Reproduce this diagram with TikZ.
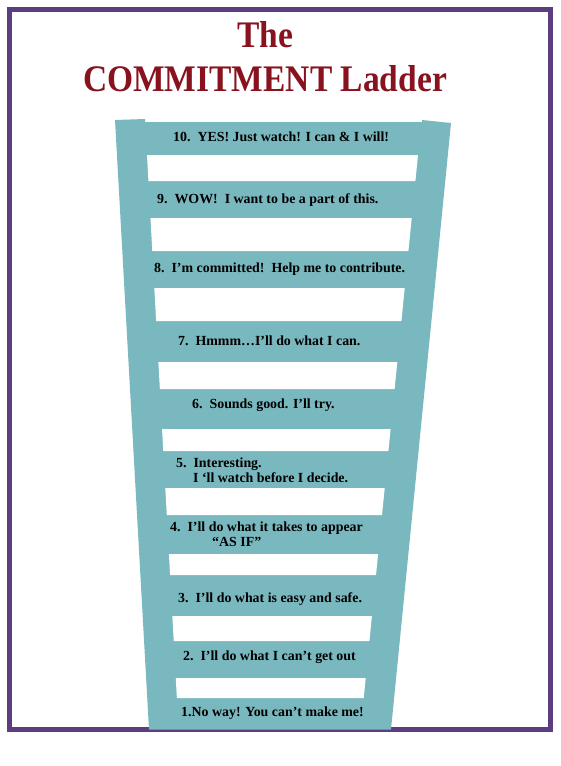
\documentclass[tikz,border=0pt]{standalone}
\usepackage{fontspec}
\setmainfont{Liberation Serif}
\definecolor{teal1}{HTML}{7AB8BF}
\definecolor{frame1}{HTML}{5C3D80}
\definecolor{title1}{HTML}{88131F}
\begin{document}
\begin{tikzpicture}[x=1pt,y=-1pt,
  rungtext/.style={anchor=base west,inner sep=0pt,font=\bfseries\fontsize{13.9}{15}\selectfont,text=black},
  titletext/.style={anchor=base,inner sep=0pt,font=\bfseries\fontsize{33.5}{36}\selectfont,text=title1}]
\useasboundingbox (0,0) rectangle (560,766);
\fill[white] (0,0) rectangle (560,766);
% frame
\draw[frame1,line width=5pt] (9.5,9.5) rectangle (550,729.5);
% ladder body
\fill[teal1] (115,120) -- (145,119) -- (145,122) -- (422,122) -- (422,120) -- (451,123)
  -- (391,729.5) -- (149,729.5) -- cycle;
% gaps
\foreach \t/\b in {155/181,218/251,288/321,362/389,429/451,488/515,554/575,616/641,678/698}{
  \fill[white] ({147+0.055*(\t-155)},\t) -- ({418-0.1*(\t-155)},\t)
    -- ({418-0.1*(\b-155)},\b) -- ({147+0.055*(\b-155)},\b) -- cycle;
}
% title
\node[titletext] (t1) at (265.5,47) {\scalebox{1}[1.12]{The}};
\node[titletext] (t2) at (265,91) {\scalebox{1}[1.12]{COMMITMENT Ladder}};
% rungs
\node[rungtext] (r10) at (173,141) {10.\ \ YES! Just watch! I can \& I will!};
\node[rungtext] (r9) at (157,203) {9.\ \ WOW!\ \ I want to be a part of this.};
\node[rungtext] (r8) at (154,272) {8.\ \ I’m committed!\ \ Help me to contribute.};
\node[rungtext] (r7) at (178,345) {7.\ \ Hmmm…I’ll do what I can.};
\node[rungtext] (r6) at (192,408) {6.\ \ Sounds good. I’ll try.};
\node[rungtext] (r5a) at (176,467) {5.\ \ Interesting.};
\node[rungtext] (r5b) at (193,482) {I ‘ll watch before I decide.};
\node[rungtext] (r4a) at (170,531) {4.\ \ I’ll do what it takes to appear};
\node[rungtext] (r4b) at (212,546) {“AS IF”};
\node[rungtext] (r3) at (178,602) {3.\ \ I’ll do what is easy and safe.};
\node[rungtext] (r2) at (183,660) {2.\ \ I’ll do what I can’t get out};
\node[rungtext] (r1) at (181,716) {1.No way! You can’t make me!};
\end{tikzpicture}
\end{document}
